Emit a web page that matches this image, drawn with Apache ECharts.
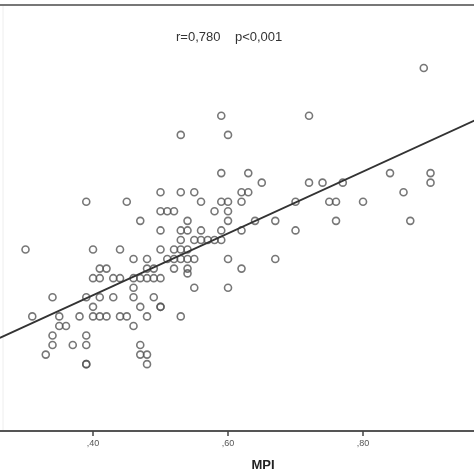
<!DOCTYPE html>
<html>
<head>
<meta charset="utf-8">
<script src="https://cdn.jsdelivr.net/npm/echarts@6/dist/echarts.min.js"></script>
<style>
  html, body { margin: 0; padding: 0; background: #fff; }
  #chart { width: 474px; height: 474px; }
</style>
</head>
<body>
<div id="chart"></div>
<script>
// MPI value of each subject (x) and its score (y), one line per score level
const mpi = [
    0.89,
    0.59, 0.72,
    0.53, 0.60,
    0.59, 0.63, 0.84, 0.90,
    0.65, 0.72, 0.74, 0.77, 0.90,
    0.50, 0.53, 0.55, 0.62, 0.63, 0.86,
    0.39, 0.45, 0.56, 0.59, 0.60, 0.62, 0.70, 0.75, 0.76, 0.80,
    0.50, 0.51, 0.52, 0.58, 0.60,
    0.47, 0.54, 0.60, 0.64, 0.67, 0.76, 0.87,
    0.50, 0.53, 0.54, 0.56, 0.59, 0.62, 0.70,
    0.53, 0.55, 0.56, 0.57, 0.58, 0.59,
    0.30, 0.40, 0.44, 0.50, 0.52, 0.53, 0.54,
    0.46, 0.48, 0.51, 0.52, 0.53, 0.54, 0.55, 0.60, 0.67,
    0.41, 0.42, 0.48, 0.49, 0.52, 0.54, 0.62,
    0.54,
    0.40, 0.41, 0.43, 0.44, 0.46, 0.47, 0.48, 0.49, 0.50,
    0.46, 0.55, 0.60,
    0.34, 0.39, 0.41, 0.43, 0.46, 0.49,
    0.40, 0.47, 0.50, 0.50,
    0.31, 0.35, 0.38, 0.40, 0.41, 0.42, 0.44, 0.45, 0.48, 0.53,
    0.35, 0.36, 0.46,
    0.34, 0.39,
    0.34, 0.37, 0.39, 0.47,
    0.33, 0.47, 0.48,
    0.39, 0.39, 0.48
];
const score = [
    38,
    33, 33,
    31, 31,
    27, 27, 27, 27,
    26, 26, 26, 26, 26,
    25, 25, 25, 25, 25, 25,
    24, 24, 24, 24, 24, 24, 24, 24, 24, 24,
    23, 23, 23, 23, 23,
    22, 22, 22, 22, 22, 22, 22,
    21, 21, 21, 21, 21, 21, 21,
    20, 20, 20, 20, 20, 20,
    19, 19, 19, 19, 19, 19, 19,
    18, 18, 18, 18, 18, 18, 18, 18, 18,
    17, 17, 17, 17, 17, 17, 17,
    16.5,
    16, 16, 16, 16, 16, 16, 16, 16, 16,
    15, 15, 15,
    14, 14, 14, 14, 14, 14,
    13, 13, 13, 13,
    12, 12, 12, 12, 12, 12, 12, 12, 12, 12,
    11, 11, 11,
    10, 10,
    9, 9, 9, 9,
    8, 8, 8,
    7, 7, 7
];
// fitted line, read at both edges of the visible plot
const fitX = [0.262, 0.965];
const fitY = [9.75, 32.5];
const xTicks = [0.40, 0.60, 0.80];
const statsText = 'r=0,780    p<0,001';

const chart = echarts.init(document.getElementById('chart'));

const points = mpi.map(function (x, i) { return [x, score[i]]; });
const fitLine = fitX.map(function (x, i) { return [x, fitY[i]]; });

const options = {
    animation: false,
    grid: { left: 0, right: 0, top: 5, bottom: 43 },
    xAxis: {
        type: 'value',
        min: 0.2622,
        max: 0.9644,
        splitLine: { show: false },
        axisLine: { lineStyle: { color: '#555', width: 2 } },
        axisTick: {
            customValues: xTicks,
            length: 5,
            lineStyle: { color: '#444', width: 1.5 }
        },
        axisLabel: {
            customValues: xTicks,
            margin: 8,
            fontSize: 9,
            color: '#555',
            fontFamily: 'Liberation Sans',
            formatter: function (v) { return v.toFixed(2).replace('0.', ','); }
        }
    },
    yAxis: {
        type: 'value',
        min: 0,
        max: 44.6,
        show: false
    },
    graphic: [
        {
            type: 'line',
            shape: { x1: 0, y1: 5, x2: 474, y2: 5 },
            style: { stroke: '#777', lineWidth: 2 }
        },
        {
            type: 'line',
            shape: { x1: 3, y1: 6, x2: 3, y2: 430 },
            style: { stroke: '#eee', lineWidth: 1 }
        },
        {
            type: 'text',
            left: 176,
            top: 31,
            style: { text: statsText, fontSize: 13, fill: '#333', fontFamily: 'Liberation Sans' }
        },
        {
            type: 'text',
            x: 263,
            y: 465,
            style: {
                text: 'MPI', fontSize: 13, fontWeight: 'bold', fill: '#222',
                fontFamily: 'Liberation Sans', align: 'center', verticalAlign: 'middle'
            }
        }
    ],
    series: [
        {
            type: 'scatter',
            data: points,
            symbol: 'circle',
            symbolSize: 7,
            itemStyle: { color: 'rgba(0,0,0,0)', borderColor: '#555', borderWidth: 1.6 }
        },
        {
            type: 'line',
            data: fitLine,
            symbol: 'none',
            lineStyle: { color: '#333', width: 1.8 }
        }
    ]
};
chart.setOption(options);
</script>
</body>
</html>
